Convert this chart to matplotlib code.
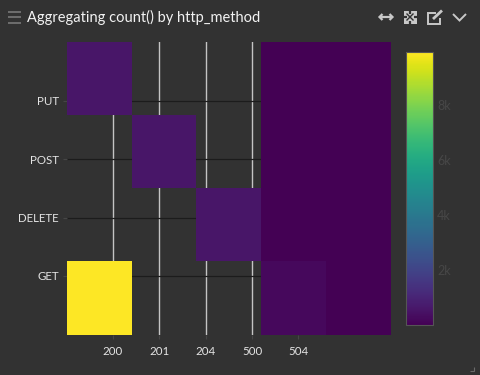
import numpy as np
import matplotlib
matplotlib.use("Agg")
import matplotlib.pyplot as plt
from matplotlib.lines import Line2D
from matplotlib.patches import Rectangle

status_codes = ["200", "201", "204", "500", "504"]
http_methods = ["GET", "DELETE", "POST", "PUT"]
get_counts = [9950, np.nan, np.nan, 230, 5]
delete_counts = [np.nan, np.nan, 560, 5, 5]
post_counts = [np.nan, 560, np.nan, 5, 5]
put_counts = [560, np.nan, np.nan, 5, 5]
colorbar_ticks = [2000, 4000, 6000, 8000]
colorbar_labels = ["2k", "4k", "6k", "8k"]
title_text = "Aggregating count() by http_method"

W, H = 480, 375
BG = "#323232"
plt.rcParams["font.family"] = ["Lato", "DejaVu Sans"]
fig = plt.figure(figsize=(W / 100, H / 100), dpi=100, facecolor=BG)


def box(x0, y0, x1, y1):
    return [x0 / W, 1 - y1 / H, (x1 - x0) / W, (y1 - y0) / H]


ax = fig.add_axes(box(66.7, 42, 391, 334.5), facecolor=BG)
values = np.array([get_counts, delete_counts, post_counts, put_counts], dtype=float)
ncols, nrows = len(status_codes), len(http_methods)
xedges = np.linspace(-1, ncols + 1, ncols + 1)
yedges = np.linspace(-1, nrows, nrows + 1)
mesh = ax.pcolormesh(xedges, yedges, values, cmap="viridis", vmin=0, vmax=9950,
                     zorder=3, linewidth=0)
ax.set_xlim(-1, ncols + 1)
ax.set_ylim(-1, nrows)
ax.set_xticks(range(ncols), status_codes)
ax.set_yticks(range(nrows), http_methods)
ax.xaxis.grid(True, color="#c4c4c4", lw=1.0, zorder=1)
ax.yaxis.grid(True, color="#1c1c1c", lw=0.9, zorder=2)
ax.set_axisbelow(True)
ax.tick_params(axis="x", length=3, width=0.8, color="#464646", labelcolor="#e4e4e4",
               labelsize=8.3, pad=5.5)
ax.tick_params(axis="y", length=3, width=0.8, color="#464646", labelcolor="#e4e4e4",
               labelsize=8.3, pad=2.6)
for s in ax.spines.values():
    s.set_visible(False)

cax = fig.add_axes(box(406, 51.5, 433, 325))
cb = fig.colorbar(mesh, cax=cax)
cb.set_ticks(colorbar_ticks, labels=colorbar_labels)
cb.ax.tick_params(length=0, labelcolor="#474747", labelsize=9, pad=3)
cb.outline.set_edgecolor("#555555")
cb.outline.set_linewidth(0.8)

fig.text(27 / W, 1 - 17.5 / H, title_text, color="#f2f2f2", fontsize=10.5,
         va="center", ha="left")


def fl(xs, ys, c="#c8c8c8", lw=1.5):
    fig.add_artist(Line2D([x / W for x in xs], [1 - y / H for y in ys], color=c, lw=lw,
                          solid_capstyle="butt", solid_joinstyle="miter"))


# panel header: menu icon
for y in (11.5, 17, 22.5):
    fl([8, 21], [y, y], c="#6e6e6e", lw=1.4)
# expand arrows
fl([380, 392], [17, 17], lw=1.6)
fl([382.5, 379.5, 382.5], [14, 17, 20], lw=1.6)
fl([389.5, 392.5, 389.5], [14, 17, 20], lw=1.6)
# fullscreen icon
fig.add_artist(Rectangle((403.5 / W, 1 - 23.5 / H), 13 / W, 13 / H, transform=fig.transFigure,
                         fc="#c8c8c8", ec="none"))
for xs, ys in (([410, 410], [10.5, 13.5]), ([410, 410], [20.5, 23.5]),
               ([403.5, 406.5], [17, 17]), ([413.5, 416.5], [17, 17])):
    fl(xs, ys, c=BG, lw=1.6)
fl([406.5, 413.5], [13.5, 20.5], c=BG, lw=1.0)
fl([406.5, 413.5], [20.5, 13.5], c=BG, lw=1.0)
# edit icon
fl([436, 428, 428, 440, 440], [12.5, 12.5, 23.5, 23.5, 18], lw=1.4)
fl([433, 442], [19, 10.5], lw=2.0)
# chevron
fl([453, 459.5, 466], [14, 20.5, 14], lw=1.4)
# resize mark
fl([469.5, 473.5, 473.5], [370.5, 370.5, 366.5], c="#6a6a6a", lw=0.8)

fig.savefig("out.png", dpi=100, facecolor=BG)
